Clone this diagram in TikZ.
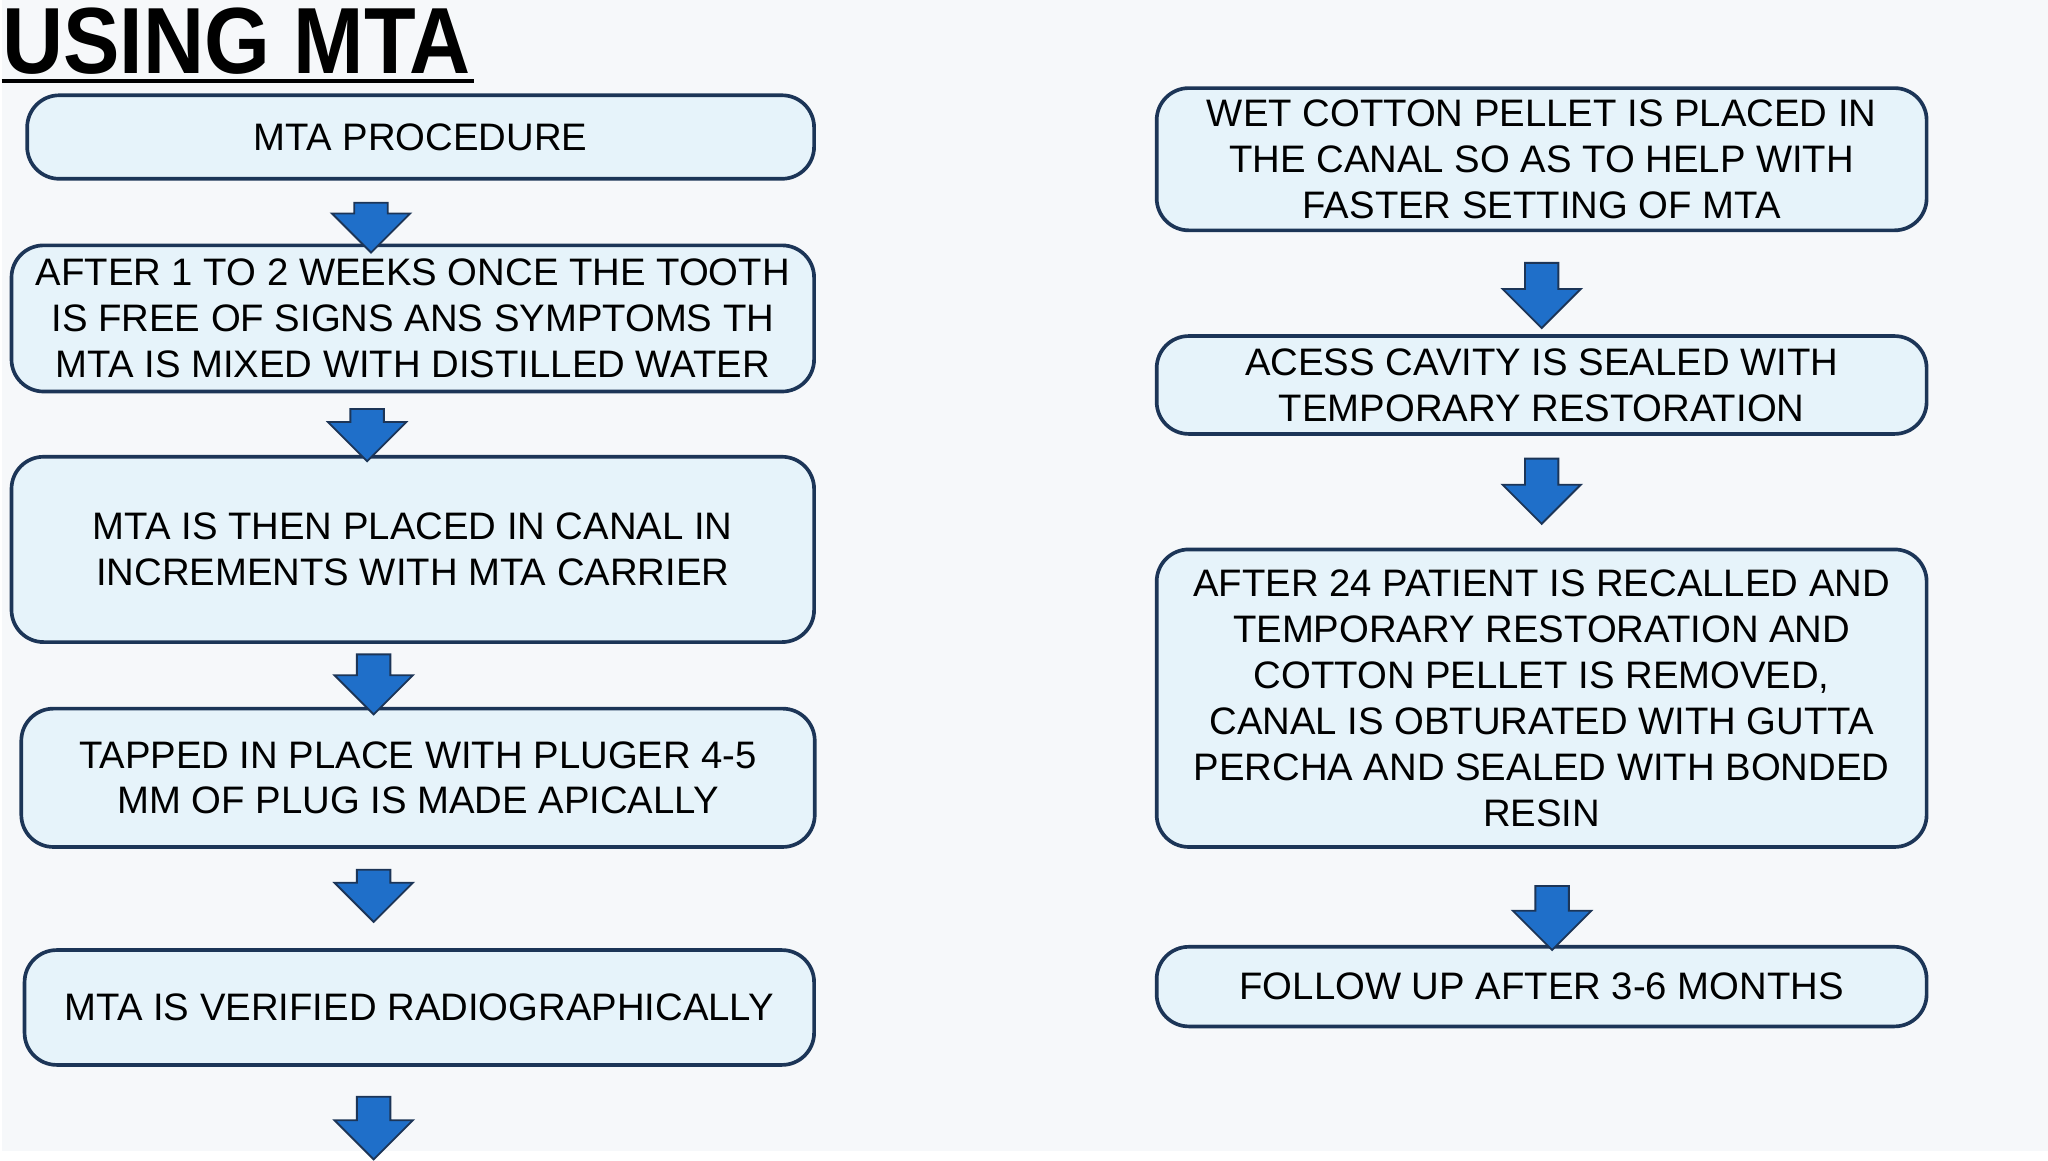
\documentclass[tikz,border=0pt]{standalone}
\usepackage{fontspec}
\setmainfont{Liberation Sans}
\usetikzlibrary{shapes.arrows}
\definecolor{boxfill}{HTML}{E6F3FA}
\definecolor{boxline}{HTML}{1C3557}
\definecolor{arrowblue}{HTML}{1F6FC9}
\definecolor{paper}{HTML}{F6F8FA}
\begin{document}
\begin{tikzpicture}[x=0.02cm,y=-0.02cm,%
% common options for the step boxes:
stepbox/.style = {draw=boxline, line width=1.6pt, fill=boxfill, rounded corners=14pt,
            align=center, inner sep=0, font=\fontsize{16.7}{20}\selectfont},
% common options for the down arrows:
down/.style = {single arrow, draw=boxline, line width=0.8pt, fill=arrowblue,
            shape border rotate=270, minimum width=60*0.02cm,
            single arrow head extend=17*0.02cm, inner sep=12*0.02cm,
            single arrow head indent=0pt}]
\fill[paper] (0,0) rectangle (1568,882);
\node[anchor=base west,inner sep=0,font=\fontsize{41}{46}\selectfont\bfseries] (title) at (0,56)
  {\scalebox{0.9}[1]{USING MTA}};
\draw[line width=1.5pt] (0,62) coordinate (ul) -- (362,62) coordinate (ur);
% left column
\node[stepbox,minimum width=603*0.02cm,minimum height=64*0.02cm] (A1) at (321,105) {MTA PROCEDURE};
\node[stepbox,minimum width=615*0.02cm,minimum height=112*0.02cm] (A2) at (315,244)
  {AFTER 1 TO 2 WEEKS ONCE THE TOOTH\\IS FREE OF SIGNS ANS SYMPTOMS TH\\MTA IS MIXED WITH DISTILLED WATER};
\node[stepbox,minimum width=615*0.02cm,minimum height=142*0.02cm] (A3) at (315,421)
  {MTA IS THEN PLACED IN CANAL IN\\INCREMENTS WITH MTA CARRIER};
\node[stepbox,minimum width=608*0.02cm,minimum height=106*0.02cm] (A4) at (319,596)
  {TAPPED IN PLACE WITH PLUGER 4-5\\MM OF PLUG IS MADE APICALLY};
\node[stepbox,minimum width=605*0.02cm,minimum height=88*0.02cm] (A5) at (320,772)
  {MTA IS VERIFIED RADIOGRAPHICALLY};
\node[down,minimum height=36*0.02cm] (D1) at (283,168) {};
\node[down,minimum height=40*0.02cm] (D2) at (280,327) {};
\node[down,minimum height=46*0.02cm] (D3) at (285,518) {};
\node[down,minimum height=40*0.02cm] (D4) at (285,680) {};
\node[down,minimum height=48*0.02cm] (D5) at (285,858) {};
% right column
\node[stepbox,minimum width=590*0.02cm,minimum height=109*0.02cm] (B1) at (1180,122)
  {WET COTTON PELLET IS PLACED IN\\THE CANAL SO AS TO HELP WITH\\FASTER SETTING OF MTA};
\node[stepbox,minimum width=590*0.02cm,minimum height=75*0.02cm] (B2) at (1180,295)
  {ACESS CAVITY IS SEALED WITH\\TEMPORARY RESTORATION};
\node[stepbox,minimum width=590*0.02cm,minimum height=228*0.02cm] (B3) at (1180,535)
  {AFTER 24 PATIENT IS RECALLED AND\\TEMPORARY RESTORATION AND\\COTTON PELLET IS REMOVED,\\CANAL IS OBTURATED WITH GUTTA\\PERCHA AND SEALED WITH BONDED\\RESIN};
\node[stepbox,minimum width=590*0.02cm,minimum height=61*0.02cm] (B4) at (1180,756)
  {FOLLOW UP AFTER 3-6 MONTHS};
\node[down,minimum height=50*0.02cm] (E1) at (1180,220) {};
\node[down,minimum height=50*0.02cm] (E2) at (1180,370) {};
\node[down,minimum height=49*0.02cm] (E3) at (1188,697) {};
\end{tikzpicture}
\end{document}
